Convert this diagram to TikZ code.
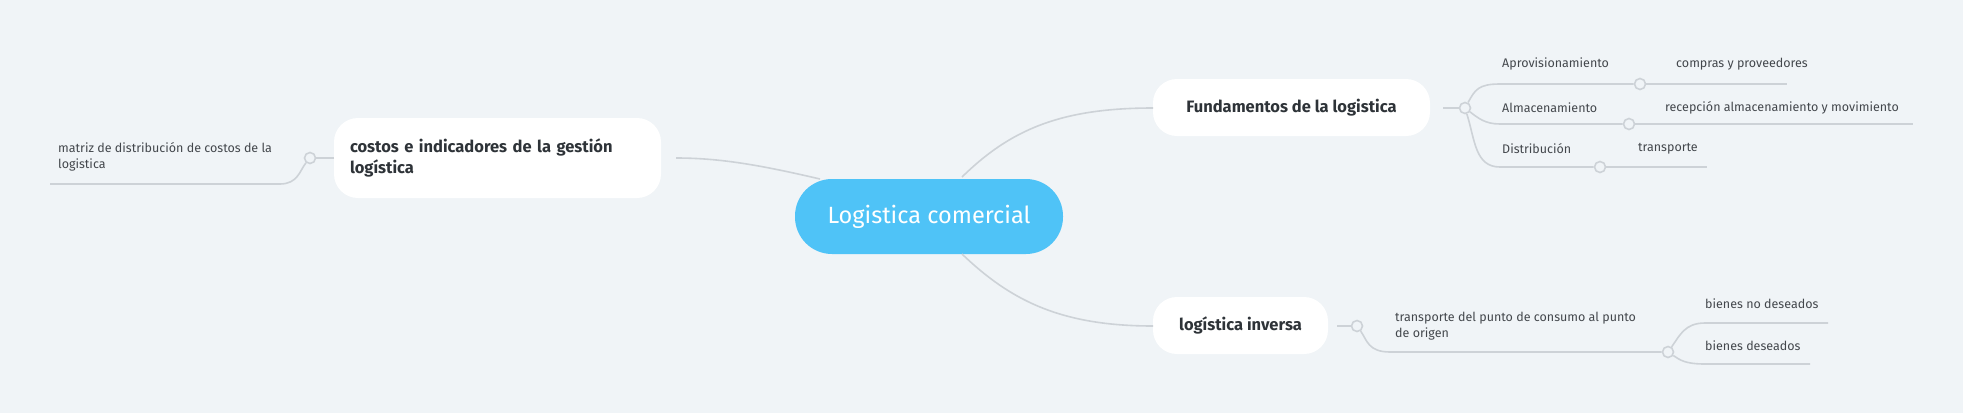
\documentclass[tikz,border=0pt]{standalone}
\usepackage{fontspec}
\setmainfont{Fira Sans}
\definecolor{bg}{HTML}{F0F4F7}
\definecolor{ln}{HTML}{CDD2D7}
\definecolor{ctr}{HTML}{4FC3F7}
\definecolor{tx}{HTML}{2E3338}
\begin{document}
\begin{tikzpicture}[x=1pt,y=-1pt,
  conn/.style={draw=ln,line width=1.6pt},
  knob/.style={circle,draw=ln,fill=bg,line width=1.6pt,minimum size=11pt,inner sep=0pt},
  topic/.style={fill=white,rounded corners=24pt,text=tx,font=\fontsize{16.5}{21}\selectfont\bfseries,align=left,inner sep=0pt},
  leaf/.style={text=tx!90,font=\fontsize{12.5}{16}\selectfont,anchor=west,align=left,inner sep=0pt}]
\fill[bg] (0,0) rectangle (1963,413);
\useasboundingbox (0,0) rectangle (1963,413);
% central
\node[fill=ctr,rounded corners=37pt,minimum width=268pt,minimum height=75pt,text=white,font=\fontsize{23.5}{28}\selectfont] (c) at (929,216.5) {Logistica comercial};
% main topics
\node[topic,minimum width=277pt,minimum height=57pt] (f) at (1291.5,107.5) {\hspace*{0pt}Fundamentos de la logistica};
\node[topic,minimum width=327pt,minimum height=80pt,text width=295pt] (k) at (497.5,158) {costos e indicadores de la gestión\\logística};
\node[topic,minimum width=175pt,minimum height=57pt] (i) at (1240.5,325.5) {logística inversa};
% central connectors
\coordinate (cf) at (962,177); \coordinate (ck) at (820,179); \coordinate (ci) at (962,254);
\coordinate (fin) at (1153,108); \coordinate (kin) at (676,158); \coordinate (iin) at (1153,326);
\draw[conn] (cf) .. controls (1010,130) and (1060,108) .. (fin);
\draw[conn] (ck) .. controls (760,165) and (720,158) .. (kin);
\draw[conn] (ci) .. controls (1010,300) and (1060,326) .. (iin);
% Fundamentos branch
\node[knob] (fk) at (1465,108) {};
\coordinate (fo) at (1443,108);
\draw[conn] (fo) -- (fk);
\node[leaf] (a1) at (1502,64) {Aprovisionamiento};
\node[leaf] (a2) at (1502,108) {Almacenamiento};
\node[leaf] (a3) at (1502,149) {Distribución};
\node[knob] (k1) at (1640,84) {};
\node[knob] (k2) at (1629,124) {};
\node[knob] (k3) at (1600,167) {};
\draw[conn] (fk) .. controls (1475,90) and (1478,84) .. (1500,84) -- (k1);
\draw[conn] (fk) .. controls (1478,118) and (1485,124) .. (1500,124) -- (k2);
\draw[conn] (fk) .. controls (1475,140) and (1475,167) .. (1500,167) -- (k3);
\node[leaf] (b1) at (1676,64) {compras y proveedores};
\node[leaf] (b2) at (1665,108) {recepción almacenamiento y movimiento};
\node[leaf] (b3) at (1638,149) {transporte};
\coordinate (e1) at (1787,84); \coordinate (e2) at (1913,124); \coordinate (e3) at (1707,167);
\draw[conn] (k1) -- (e1); \draw[conn] (k2) -- (e2); \draw[conn] (k3) -- (e3);
% costos branch
\node[knob] (kk) at (310,158) {};
\coordinate (ko) at (334,158);
\draw[conn] (ko) -- (kk);
\coordinate (ke) at (50,184);
\draw[conn] (kk) .. controls (300,170) and (298,184) .. (280,184) -- (ke);
\node[leaf] (m) at (58,157) {matriz de distribución de costos de la\\logistica};
% inversa branch
\node[knob] (ik) at (1357,326) {};
\coordinate (io) at (1337,326);
\draw[conn] (io) -- (ik);
\node[knob] (ik2) at (1668,352) {};
\draw[conn] (ik) .. controls (1367,340) and (1368,352) .. (1390,352) -- (ik2);
\node[leaf] (t) at (1395,326) {transporte del punto de consumo al punto\\de origen};
\node[leaf] (n1) at (1705,304) {bienes no deseados};
\node[leaf] (n2) at (1705,346) {bienes deseados};
\coordinate (g1) at (1828,323); \coordinate (g2) at (1810,364);
\draw[conn] (ik2) .. controls (1680,335) and (1685,323) .. (1705,323) -- (g1);
\draw[conn] (ik2) .. controls (1680,360) and (1685,364) .. (1705,364) -- (g2);
\end{tikzpicture}
\end{document}
